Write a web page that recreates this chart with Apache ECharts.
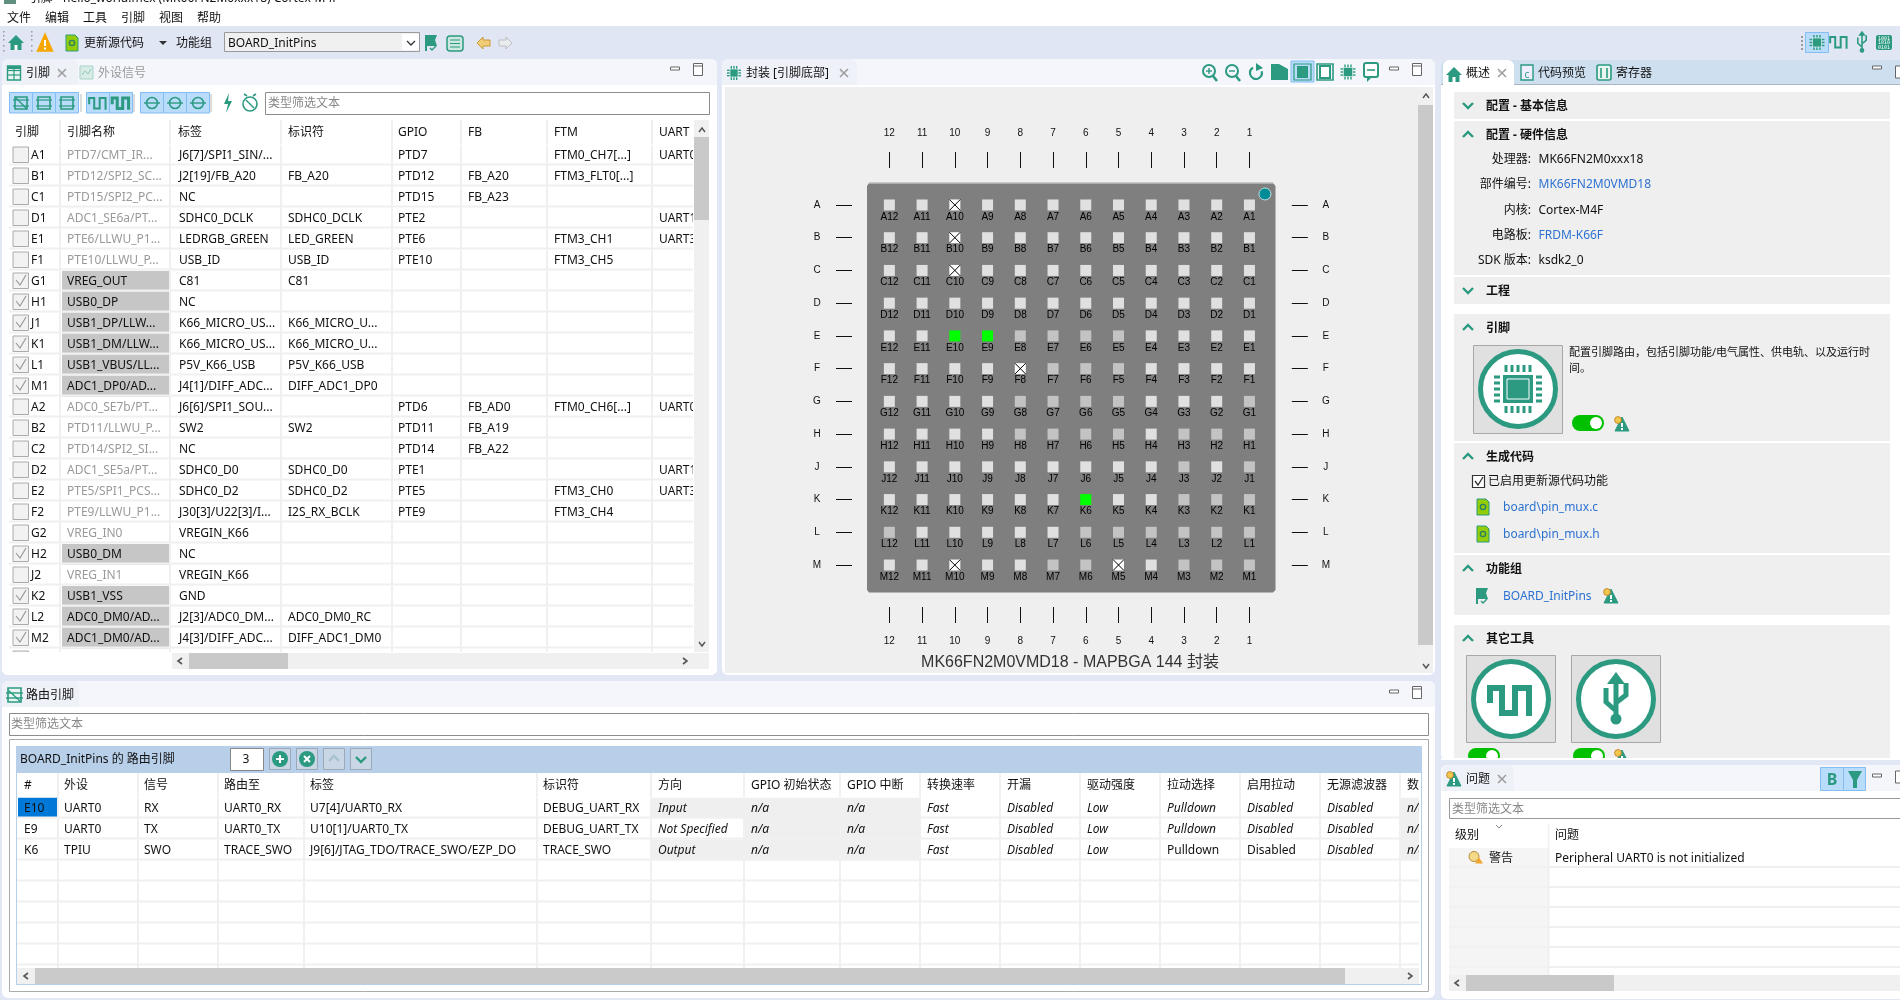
<!DOCTYPE html>
<html>
<head>
<meta charset="utf-8">
<title>引脚</title>
<style>html,body{margin:0;padding:0;background:#e1e7f4}#main{width:1900px;height:1000px}</style>
<script src="https://cdn.jsdelivr.net/npm/echarts@6/dist/echarts.min.js"></script>
</head>
<body>
<div id="main"></div>
<script>
// package pins
const pinColumns = ['12','11','10','9','8','7','6','5','4','3','2','1'];
const pinRowNames = ['A','B','C','D','E','F','G','H','J','K','L','M'];
const routedPins = ['E10','E9','K6'];
const crossedPins = ['A10','B10','C10','F8','M10','M5'];
const inactivePins = ['E8','E7','E6','E5','F7','F6','F5','G8','G7','G6','G5','G1','H8','H7','H6','H5','H3','H2','H1',
  'J3','J1','K3','K2','K1','L12','L6','L5','L4','L3','L2','L1','M7','M6','M3','M2','M1'];

// pins table
const pinHeaders = ['引脚','引脚名称','标签','标识符','GPIO','FB','FTM','UART'];
const pinIds = ['A1','B1','C1','D1','E1','F1','G1','H1','J1','K1','L1','M1','A2','B2','C2','D2','E2','F2','G2','H2','J2','K2','L2','M2',''];
const pinChecked = ['G1','H1','J1','K1','L1','M1','H2','K2','L2','M2'];
const pinNames = ['PTD7/CMT_IR...','PTD12/SPI2_SC...','PTD15/SPI2_PC...','ADC1_SE6a/PT...','PTE6/LLWU_P1...','PTE10/LLWU_P...','VREG_OUT','USB0_DP','USB1_DP/LLW...','USB1_DM/LLW...','USB1_VBUS/LL...','ADC1_DP0/AD...',
  'ADC0_SE7b/PT...','PTD11/LLWU_P...','PTD14/SPI2_SI...','ADC1_SE5a/PT...','PTE5/SPI1_PCS...','PTE9/LLWU_P1...','VREG_IN0','USB0_DM','VREG_IN1','USB1_VSS','ADC0_DM0/AD...','ADC1_DM0/AD...',''];
const pinLabels = ['J6[7]/SPI1_SIN/...','J2[19]/FB_A20','NC','SDHC0_DCLK','LEDRGB_GREEN','USB_ID','C81','NC','K66_MICRO_US...','K66_MICRO_US...','P5V_K66_USB','J4[1]/DIFF_ADC...',
  'J6[6]/SPI1_SOU...','SW2','NC','SDHC0_D0','SDHC0_D2','J30[3]/U22[3]/I...','VREGIN_K66','NC','VREGIN_K66','GND','J2[3]/ADC0_DM...','J4[3]/DIFF_ADC...',''];
const pinIdents = ['','FB_A20','','SDHC0_DCLK','LED_GREEN','USB_ID','C81','','K66_MICRO_U...','K66_MICRO_U...','P5V_K66_USB','DIFF_ADC1_DP0',
  '','SW2','','SDHC0_D0','SDHC0_D2','I2S_RX_BCLK','','','','','ADC0_DM0_RC','DIFF_ADC1_DM0',''];
const pinGpio = ['PTD7','PTD12','PTD15','PTE2','PTE6','PTE10','','','','','','','PTD6','PTD11','PTD14','PTE1','PTE5','PTE9','','','','','','',''];
const pinFb = ['','FB_A20','FB_A23','','','','','','','','','','FB_AD0','FB_A19','FB_A22','','','','','','','','','',''];
const pinFtm = ['FTM0_CH7[...]','FTM3_FLT0[...]','','','FTM3_CH1','FTM3_CH5','','','','','','','FTM0_CH6[...]','','','','FTM3_CH0','FTM3_CH4','','','','','','',''];
const pinUart = ['UART0','','','UART1','UART3','','','','','','','','UART0','','','UART1','UART3','','','','','','','',''];

// routed pins table
const routedHeaders = ['#','外设','信号','路由至','标签','标识符','方向','GPIO 初始状态','GPIO 中断','转换速率','开漏','驱动强度','拉动选择','启用拉动','无源滤波器','数'];
const routedRows = [
  ['E10','UART0','RX','UART0_RX','U7[4]/UART0_RX','DEBUG_UART_RX','Input','n/a','n/a','Fast','Disabled','Low','Pulldown','Disabled','Disabled','n/a'],
  ['E9','UART0','TX','UART0_TX','U10[1]/UART0_TX','DEBUG_UART_TX','Not Specified','n/a','n/a','Fast','Disabled','Low','Pulldown','Disabled','Disabled','n/a'],
  ['K6','TPIU','SWO','TRACE_SWO','J9[6]/JTAG_TDO/TRACE_SWO/EZP_DO','TRACE_SWO','Output','n/a','n/a','Fast','Disabled','Low','Pulldown','Disabled','Disabled','n/a'],
  [],[],[],[],[],[]
];

// problems table
const problemRows = [['警告','Peripheral UART0 is not initialized'],[],[],[],[],[],[]];

const FONT = '"Noto Sans","Noto Sans CJK SC",sans-serif';
const INK = '#111';
const TEAL = '#2b9a80', LINK = '#2d72d2', GRID_LINE = '#f0f0f0', BTN = '#b9dcfb', BTN_EDGE = '#84bdf2';

// column edges, in table axis units (pixels from the table's left side)
const pinColEdges = [0,51,161,272,383,452,538,643];
const pinColText = [22,58,170,279,389,459,545,650];
const pinHeadText = [6,58,169,279,389,459,545,650];
const routedColEdges = [0,41,121,201,287,520,634,727,823,903,983,1063,1143,1223,1303,1383];
const routedColText = [7,47,127,207,293,526,641,734,830,910,990,1070,1150,1230,1310,1390];

// --- chrome helpers
const back = [], front = [];
let out = back;
function R(x,y,w,h,fill,stroke,r,lw){out.push({type:'rect',z:out===front?10:0,shape:{x,y,width:w,height:h,r:r||0},style:{fill:fill||'none',stroke:stroke||null,lineWidth:lw||1},silent:true});}
function L(x1,y1,x2,y2,c,lw){out.push({type:'line',z:out===front?10:0,shape:{x1,y1,x2,y2},style:{stroke:c||'#777',lineWidth:lw||1},silent:true});}
function PG(pts,fill,stroke,lw){out.push({type:'polygon',z:out===front?10:0,shape:{points:pts},style:{fill:fill||'none',stroke:stroke||null,lineWidth:lw||1},silent:true});}
function PL(pts,c,lw){out.push({type:'polyline',z:out===front?10:0,shape:{points:pts},style:{fill:'none',stroke:c,lineWidth:lw||1},silent:true});}
function C(cx,cy,r,fill,stroke,lw){out.push({type:'circle',z:out===front?10:0,shape:{cx,cy,r},style:{fill:fill||'none',stroke:stroke||null,lineWidth:lw||1},silent:true});}
function T(x,y,s,o){o=o||{};out.push({type:'text',z:out===front?10:0,silent:true,style:{text:s,x,y:y+1,fill:o.c||INK,font:(o.font||((o.w?'bold ':'')+(o.s||12)+'px '+FONT)),textAlign:o.a||'left',align:o.a||'left',textVerticalAlign:'middle',verticalAlign:'middle'}});}

// --- icons
function closeX(x,y){L(x-4,y-4,x+4,y+4,'#9a9a9a',1.4);L(x+4,y-4,x-4,y+4,'#9a9a9a',1.4);L(x-2,y,x-4,y-2,'#d0d0d0',1);}
function minMax(x1,x2,y){R(x1-4.5,y-2,9,3,'#fff','#666');R(x2-4.5,y-5.5,9,12,'#fff','#666');L(x2-4.5,y-3,x2+4.5,y-3,'#666');}
function house(x,y,c){PG([[x-8,y],[x,y-8],[x+8,y]],c||TEAL);R(x-5.5,y,11,7,c||TEAL);R(x-1.5,y+2,3,5,'#fff');}
function warnOrange(x,y){PG([[x,y-9],[x+7.5,y+8],[x-7.5,y+8]],'#f7a600','#f7a600',1.5);R(x-1,y-3,2,6,'#fff');R(x-1,y+4.5,2,2,'#fff');}
function warnTeal(x,y){PG([[x,y-7],[x+7,y+7],[x-7,y+7]],TEAL,TEAL,1);R(x-1,y-1,2,4,'#fff');R(x-1,y+4,2,2,'#fff');C(x-4,y-4,3.4,'#f3c74e','#b87b1f',0.8);}
function greenDoc(x,y){PG([[x-6,y-8],[x+3,y-8],[x+6,y-5],[x+6,y+8],[x-6,y+8]],'#93cc08',TEAL,1);C(x,y,2.6,'none','#2a7f62',1.4);}
function flag(x,y){R(x-6,y-8,2,16,TEAL);PG([[x-4,y-8],[x+6,y-8],[x+4,y-3],[x+6,y+3],[x-4,y+3]],TEAL);PL([[x-1,y+5],[x+1,y+7],[x+5,y+3]],TEAL,1.4);}
function chipSmall(x,y,s,c){c=c||TEAL;R(x-s/2,y-s/2,s,s,c);for(let i=-1;i<=1;i++){const o=i*s/3;L(x+o,y-s/2-3,x+o,y+s/2+3,c,1.4);L(x-s/2-3,y+o,x+s/2+3,y+o,c,1.4);}R(x-s/2,y-s/2,s,s,c,'#fff',0,.6);}
function chipBig(x,y){
  for(let i=-2;i<=2;i++){const o=i*6;L(x+o,y-24,x+o,y+24,TEAL,3);L(x-24,y+o,x+24,y+o,TEAL,3);}
  R(x-18,y-17,36,34,'#fff');
  R(x-15,y-14,30,28,TEAL);
  R(x-11,y-10,22,20,TEAL,'#fff',0,1);
}
function tableIcon(x,y){R(x-6.5,y-7,13,14,'#e8f5f1',TEAL,0,1.4);for(const d of [-2.5,2]){L(x-6.5,y+d,x+6.5,y+d,TEAL,1.2);}L(x,y-7,x,y+7,TEAL,1.2);R(x-6.5,y-7,13,3,TEAL);}
function chevDown(x,y){PL([[x-5,y-3],[x,y+2],[x+5,y-3]],TEAL,2.4);}
function chevUp(x,y){PL([[x-5,y+2],[x,y-3],[x+5,y+2]],TEAL,2.4);}
function toggle(x,y){R(x,y-8,32,16,'#00c000',null,8);C(x+24,y,6,'#fff');}
function bigCircle(cx,cy,r){C(cx,cy,r,'#fff',TEAL,5);}
function lens(x,y,sym){C(x-1,y-1,6,'none',TEAL,2);L(x+3,y+4,x+7,y+9,TEAL,2.6);L(x-4,y-1,x+2,y-1,TEAL,1.4);if(sym){L(x-1,y-4,x-1,y+2,TEAL,1.4);}}
function scrollArrowUp(x,y){PL([[x-3,y+2],[x,y-2],[x+3,y+2]],'#555',1.4);}
function scrollArrowDown(x,y){PL([[x-3,y-2],[x,y+2],[x+3,y-2]],'#555',1.4);}
function scrollArrowLeft(x,y){PL([[x+2,y-3],[x-2,y],[x+2,y+3]],'#555',1.6);}
function scrollArrowRight(x,y){PL([[x-2,y-3],[x+2,y],[x-2,y+3]],'#555',1.6);}
function wave(x,y,k,lw){PL([[-21,4],[-21,-11],[-9,-11],[-9,14],[4,14],[4,-11],[18,-11],[18,17]].map(p=>[x+p[0]*k,y+p[1]*k]),TEAL,lw);}
function usb(x,y,k,lw){
  L(x,y-18*k,x,y+18*k,TEAL,lw);
  PG([[x,y-27*k],[x+9*k,y-15*k],[x-9*k,y-15*k]],TEAL);
  C(x,y+20*k,5.5*k,TEAL);
  PL([[x-10*k,y-11*k],[x-10*k,y+3*k],[x-1*k,y+11*k]],TEAL,lw);
  PL([[x+10*k,y-16*k],[x+10*k,y-4*k],[x+1*k,y+3*k]],TEAL,lw);
}

// --- back layer: window, panels
R(0,0,1900,26,'#fff');
R(0,26,1900,33,'#e0e6f3');
R(4,-6,12,10,'#5f8f80');
T(29,-2,'引脚 - hello_world.mex (MK66FN2M0xxx18) Cortex-M4F');
['文件','编辑','工具','引脚','视图','帮助'].forEach((m,i)=>T(7+i*38,18,m,{s:12}));

// main toolbar
house(16,43);
warnOrange(45,43);
greenDoc(72,43);
T(84,43,'更新源代码');
PG([[159,41],[167,41],[163,45]],'#333');
T(176,43,'功能组');
R(224.5,32.5,195,19,'#f0f0f0','#9a9a9a');
R(402,34,17,16,'#fff');
T(228,43,'BOARD_InitPins',{s:12});
PL([[407,41],[411,45],[415,41]],'#333',1.3);
flag(431,43);
R(447,36,16,15,'#cde8e0',TEAL,3,1.5);L(450,40,460,40,TEAL);L(450,43.5,460,43.5,TEAL);L(450,47,460,47,TEAL);
PG([[477,43],[483,37],[483,40],[490,40],[490,46],[483,46],[483,49]],'#f2cd78','#c99a3a');
PG([[512,43],[506,37],[506,40],[499,40],[499,46],[506,46],[506,49]],'#e9ecef','#bdbdbd');
[31,35,39,45,50].forEach(y=>{R(31,y,1.5,1.5,'#999');R(3,y,1.5,1.5,'#999');});
R(1805.5,32.5,23,20,BTN,BTN_EDGE);
[36,40,44,48].forEach(y=>R(1801,y,2,2,'#9a9a9a'));
chipSmall(1817,42.5,9);
wave(1839,41.5,.42,2);
usb(1862,42,.42,1.6);
R(1876,35,16,15,TEAL,null,2);
['1001','1010','0101'].forEach((s,i)=>T(1884,37.5+i*4.6,s,{font:'5px "DejaVu Sans Mono"',c:'#fff',a:'center'}));

// pins panel
R(2,59,715,616,'#fff',null,[6,6,6,6]);
R(2,59,715,26,'#f4f6fb',null,[6,6,0,0]);
R(2,59,76,26,'#eef1f8',null,[6,6,0,0]);
tableIcon(14,73);
T(26,73,'引脚');
closeX(62,73);
R(80,66,13,13,'#d8ece6','#a7d4c8');PL([[82,75],[85,71],[88,74],[91,69]],'#8fc7b9',1);
T(98,73,'外设信号',{c:'#999'});
minMax(675,698,69);
[[9,3],[86,2],[140,3]].forEach(([x,n])=>{
  for(let i=0;i<n;i++){R(x+.5+i*23,92.5,23,20.5,BTN,BTN_EDGE);}
});
[[21,1],[44,0],[67,2]].forEach(([x,k])=>{R(x-6,97,12,12,'none',TEAL,0,1.6);L(x-8,100,x+8,100,TEAL,1.2);L(x-8,106,x+8,106,TEAL,1.2);if(k===1){L(x-6,97,x+6,109,TEAL,1.4);}});
wave(98,102.5,.42,2);wave(121,102.5,.42,3);
[152,175,198].forEach(x=>{C(x,103,5.5,'none',TEAL,1.6);L(x-8,103,x+8,103,TEAL,1.4);});
[81,134,211].forEach(x=>L(x,94,x,112,'#bbb'));
PG([[229,93],[224,104],[228,104],[226,113],[232,101],[228,101]],TEAL);
C(250,104,7,'none',TEAL,1.6);L(246,100,254,108,TEAL,1.4);L(244,94,247,96,TEAL,1.6);L(256,94,253,96,TEAL,1.6);
R(265.5,92.5,444,22,'#fff','#8c8c8c');
T(268,103,'类型筛选文本',{c:'#888'});
pinHeaders.forEach((h,i)=>{T(9+pinHeadText[i],132,h);if(i>0){L(9+pinColEdges[i],120,9+pinColEdges[i],144,GRID_LINE,2);}});

// package panel
R(722,59,713,616,'#fff',null,[6,6,6,6]);
R(722,59,713,26,'#f4f6fb',null,[6,6,0,0]);
R(722,59,135,26,'#eef1f8',null,[6,6,0,0]);
chipSmall(734,73,8);
T(746,73,'封装 [引脚底部]');
closeX(844,73);
R(1291,61,23,21,BTN,BTN_EDGE);
lens(1210,72,true);lens(1233,72,false);
out.push({type:'arc',z:0,silent:true,shape:{cx:1256,cy:73,r:6,startAngle:-0.3,endAngle:4.2},style:{fill:'none',stroke:TEAL,lineWidth:2.2}});
PG([[1256,63],[1263,68],[1256,71]],TEAL);
PG([[1271,64],[1279,64],[1288,69],[1288,80],[1271,80]],TEAL);
R(1297,66,11,12,TEAL,null);R(1294,64,17,16,'none',TEAL,0,1.2);
R(1320,66,10,12,'#fff',TEAL,0,2);R(1317,64,16,16,'none',TEAL,0,1.6);
chipSmall(1348,72,9);
R(1364,63,14,14,'#fff',TEAL,2,2);L(1367,70,1375,70,TEAL,1.6);PG([[1367,77],[1372,77],[1367,82]],TEAL);
minMax(1394,1417,69);
R(725,87,693,586,'#efefef');
R(1418,87,15,586,'#f0f0f0');
R(1418,105,15,540,'#c9c9c9');
scrollArrowUp(1426,96);scrollArrowDown(1426,666);
PG([[869,183],[1273,183],[1275.5,186],[1275.5,590],[1273,592.5],[869,592.5],[867,590],[867,186]],'#7f7f7f');
L(869,183,1273,183,'#bdbdbd',1.4);

// routed pins panel
R(2,681,1433,317,'#fff',null,[6,6,6,6]);
R(2,681,1433,26,'#f4f6fb',null,[6,6,0,0]);
R(2,681,77,26,'#eef1f8',null,[6,6,0,0]);
R(8,688,13,14,'#e8f5f1',TEAL,0,1.6);L(6,693,23,693,TEAL,1.4);L(6,698,23,698,TEAL,1.4);L(8,690,21,702,TEAL,1.4);
T(26,695,'路由引脚');
minMax(1394,1417,692);
R(9.5,713.5,1419,22,'#fff','#8c8c8c');
T(11,724,'类型筛选文本',{c:'#888'});
R(9.5,739.5,1419,252,'#fff','#aaa');
R(16.5,746.5,1405,238,'#fff','#b8cfe9');
R(16,746,1406,27,'#b8cfe9');
T(20,759,'BOARD_InitPins 的 路由引脚');
R(230.5,748.5,33,22,'#fff','#888');
T(246,759,'3',{a:'center'});
[269,296,323,350].forEach(x=>R(x+.5,748.5,21,21,'#c8d6e6','#9aa8b8'));
C(280,759,8,TEAL);L(276,759,284,759,'#fff',2);L(280,755,280,763,'#fff',2);
C(307,759,8,TEAL);L(304,756,310,762,'#fff',2);L(310,756,304,762,'#fff',2);
PL([[329,761],[334,756],[339,761]],'#a9c1cf',2.4);
PL([[356,757],[361,762],[366,757]],TEAL,2.4);
routedHeaders.forEach((h,i)=>{T(17+routedColText[i],785,h);if(i>0){L(17+routedColEdges[i],773,17+routedColEdges[i],797,GRID_LINE,2);}});

// overview panel
R(1441,60,459,700,'#fff',null,[6,0,0,6]);
R(1441,60,459,24,'#cedff0',null,[6,0,0,0]);
L(1441,84.5,1900,84.5,'#aab4c2');
R(1443,60,71,25,'#fff',null,[6,6,0,0]);
house(1454,75);
T(1466,73,'概述');
closeX(1502,73);
R(1521,65,12,15,'#eef','#2b9a80',0,1.4);T(1527,74,'c',{c:TEAL,a:'center',s:10});
T(1538,73,'代码预览');
R(1597,65,14,15,'#e8f5f1',TEAL,2,1.6);L(1601,68,1601,78,TEAL,1.6);L(1607,68,1607,78,TEAL,1.6);
T(1616,73,'寄存器');
R(1872.5,66,9,3,'#fff','#666');R(1895.5,66,9,12,'#fff','#666');
[['配置 - 基本信息',92,27,0],['配置 - 硬件信息',121,154,1],['工程',277,27,0],['引脚',314,127,1],['生成代码',443,110,1],['功能组',555,60,1],['其它工具',625,133,1]].forEach(([t,y,h,open])=>{
  R(1454,y,436,h,'#efefef');
  (open?chevUp:chevDown)(1468,y+14);
  T(1486,y+14,t,{w:1});
});
[['处理器:','MK66FN2M0xxx18',159,0],['部件编号:','MK66FN2M0VMD18',184,1],['内核:','Cortex-M4F',210,0],['电路板:','FRDM-K66F',235,1],['SDK 版本:','ksdk2_0',260,0]].forEach(([k,v,y,link])=>{
  T(1531,y,k,{a:'right'});
  T(1538.5,y,v,{c:link?LINK:INK});
});
R(1473.5,345.5,89,88,'#e0e0e0','#a8a8a8');
bigCircle(1518,389,37.5);
chipBig(1518,389);
T(1569,352,'配置引脚路由，包括引脚功能/电气属性、供电轨、以及运行时',{s:11});
T(1569,368,'间。',{s:11});
toggle(1572,423);
warnTeal(1622,424);
R(1472.5,475.5,12,12,'#fff','#333',0,1.2);PL([[1475,481],[1478,485],[1483,477]],'#333',1.3);
T(1488,481,'已启用更新源代码功能');
greenDoc(1483,507);greenDoc(1483,534);
T(1503,507,'board\\pin_mux.c',{c:LINK});
T(1503,534,'board\\pin_mux.h',{c:LINK});
flag(1482,596);
T(1503,596,'BOARD_InitPins',{c:LINK});
warnTeal(1611,596);
[1466,1571].forEach(x=>{R(x+.5,655.5,89,87,'#e0e0e0','#a8a8a8');bigCircle(x+45,699,37.5);});
wave(1511,699,1,6);
usb(1616,699,1,5);
toggle(1468,756);toggle(1573,756);
warnTeal(1622,757);
R(1441,758,459,2,'#fff');
R(1441,760,459,5,'#e1e7f4');

// problems panel
R(1441,765,459,234,'#fff',null,[6,0,0,6]);
R(1441,765,459,26,'#f4f6fb',null,[6,0,0,0]);
R(1443,765,71,26,'#eef1f8',null,[6,6,0,0]);
warnTeal(1454,779);
T(1466,779,'问题');
closeX(1502,779);
R(1820.5,767.5,23,23,BTN,BTN_EDGE);R(1843.5,767.5,22,23,BTN,BTN_EDGE);
T(1832,779,'B',{s:16,w:1,c:TEAL,a:'center'});
PG([[1848,771],[1862,771],[1857,780],[1857,788],[1853,788],[1853,780]],TEAL);
R(1872.5,774,9,3,'#fff','#666');R(1895.5,771,9,12,'#fff','#666');
R(1449.5,798.5,451,20,'#fff','#999');
T(1452,809,'类型筛选文本',{c:'#888'});
T(1455,835,'级别');
PL([[1496,825],[1499,828],[1502,825]],'#888',1);
T(1555,835,'问题');
L(1548.5,824,1548.5,847,GRID_LINE,1.5);

// --- front layer: masks and scrollbars over the tables
out = front;
R(2,652,715,23,'#fff',null,[0,0,6,6]);
R(694,120,15,532,'#f0f0f0');
R(694,137,15,83,'#c9c9c9');
scrollArrowUp(702,130);scrollArrowDown(702,644);
R(172,653,537,16,'#f0f0f0');
R(189,653,99,16,'#c9c9c9');
scrollArrowLeft(180,661);scrollArrowRight(685,661);
R(17,968,1402,16,'#f0f0f0');
R(35,968,1310,16,'#cacaca');
scrollArrowLeft(26,976);scrollArrowRight(1410,976);
R(17,984.5,1405,6.5,'#fff');
L(16.5,984.5,1421.5,984.5,'#b8cfe9');
R(1449,975,451,16,'#f0f0f0');
R(1466,975,148,16,'#c9c9c9');
scrollArrowLeft(1457,983);

// --- series
const pinData = [];
pinRowNames.forEach((rowName,r)=>pinColumns.forEach((colName,c)=>{
  const name = rowName+colName;
  let color = '#e0e0e0';
  if(routedPins.includes(name)){color='#00ff00';}
  else if(crossedPins.includes(name)){color='#ffffff';}
  else if(inactivePins.includes(name)){color='#c3c3c3';}
  pinData.push({value:[c,r],name,itemStyle:{color,opacity:1}});
}));
const crossData = crossedPins.map(name=>({value:[pinColumns.indexOf(name.slice(1)),pinRowNames.indexOf(name[0])],name}));

function cellText(x,y,text,fill,italic){
  return {type:'text',x,y:y+1,silent:true,style:{text,fill:fill||INK,font:(italic?'italic ':'')+'12px '+FONT,align:'left',verticalAlign:'middle',textAlign:'left',textVerticalAlign:'middle'}};
}
function cellRect(x,y,w,h,fill){return {type:'rect',shape:{x,y,width:w,height:h},style:{fill},silent:true};}
function hLine(x1,x2,y){return {type:'line',shape:{x1,y1:y,x2,y2:y},style:{stroke:GRID_LINE,lineWidth:2},silent:true};}
function vLine(x,y1,y2){return {type:'line',shape:{x1:x,y1,x2:x,y2},style:{stroke:GRID_LINE,lineWidth:2},silent:true};}

function renderPinRow(params,api){
  const i = api.value(1), rowH = 21;
  const y = api.coord([0,i])[1];
  const px = u=>api.coord([u,i])[0];
  const id = pinIds[i], kids = [];
  const checked = pinChecked.includes(id);
  if(checked){kids.push(cellRect(px(53),y-10,109,20.5,'#c6c6c6'));}
  kids.push(hLine(px(0),px(684),y+rowH/2-1));
  pinColEdges.slice(1).forEach(e=>kids.push(vLine(px(e),y-rowH/2,y+rowH/2)));
  kids.push({type:'rect',shape:{x:px(4),y:y-8,width:15.5,height:15.5},style:{fill:'#f2f2f2',stroke:'#aaa'},silent:true});
  if(checked){kids.push({type:'polyline',shape:{points:[[px(7),y-1],[px(11),y+4],[px(17),y-6]]},style:{fill:'none',stroke:'#999',lineWidth:1.2},silent:true});}
  kids.push(cellText(px(22),y,id));
  kids.push(cellText(px(58),y,pinNames[i],checked?INK:'#9a9a9a'));
  [pinLabels,pinIdents,pinGpio,pinFb,pinFtm,pinUart].forEach((col,k)=>kids.push(cellText(px(pinColText[k+2]),y,col[i])));
  return {type:'group',children:kids};
}
function renderRoutedRow(params,api){
  const i = api.value(1), rowH = 21;
  const y = api.coord([0,i])[1];
  const px = u=>api.coord([u,i])[0];
  const row = routedRows[i], kids = [], filled = row.length>0;
  if(filled){
    [6,7,8,15].forEach(c=>{
      if(c===6 && row[c]==='Not Specified'){return;}
      const end = c===15?1402:routedColEdges[c+1];
      kids.push(cellRect(px(routedColEdges[c]),y-rowH/2,end-routedColEdges[c],rowH,'#efefef'));
    });
  }
  if(i===0){kids.push(cellRect(px(1),y-10.5,40,20.5,'#0078d7'));}
  kids.push(hLine(px(0),px(1402),y+rowH/2-1));
  routedColEdges.slice(1).forEach(e=>kids.push(vLine(px(e),y-rowH/2,y+rowH/2)));
  if(filled){
    row.forEach((v,c)=>{
      const plain = c<6 || (i===2 && (c===12||c===13));
      kids.push(cellText(px(routedColText[c]),y,v,INK,!plain));
    });
  }
  return {type:'group',children:kids};
}
function renderProblemRow(params,api){
  const i = api.value(1), rowH = 20;
  const y = api.coord([0,i])[1];
  const px = u=>api.coord([u,i])[0];
  const row = problemRows[i], kids = [cellRect(px(0),y-rowH/2,99,rowH,'#f5f5f5')];
  kids.push(hLine(px(0),px(451),y+rowH/2-.5));
  kids.push(vLine(px(99.5),y-rowH/2,y+rowH/2));
  if(row.length){
    kids.push({type:'circle',shape:{cx:px(25),cy:y-1,r:5},style:{fill:'#f5d98a',stroke:'#b88a33'},silent:true});
    kids.push({type:'polygon',shape:{points:[[px(30),y],[px(34),y+6],[px(26),y+6]]},style:{fill:'#f2a52a'},silent:true});
    kids.push(cellText(px(40),y,row[0]));
    kids.push(cellText(px(106),y,row[1]));
  }
  return {type:'group',children:kids};
}
function rowAxis(gridIndex,n){
  return {type:'category',gridIndex,show:false,inverse:true,data:Array.from({length:n},(_,i)=>String(i))};
}
function unitAxis(gridIndex,max){return {type:'value',gridIndex,show:false,min:0,max,splitLine:{show:false}};}
const edgeTick = {show:true,alignWithLabel:true,length:16,lineStyle:{color:'#111',width:1}};
const edgeLabel = {show:true,interval:0,color:'#111',fontSize:10,fontFamily:'"Liberation Sans",sans-serif'};
function edgeX(position,offset,margin){
  return {type:'category',gridIndex:0,position,offset,data:pinColumns,axisLine:{show:false},axisTick:edgeTick,splitLine:{show:false},axisLabel:{...edgeLabel,margin}};
}
function edgeY(position,offset,margin){
  return {type:'category',gridIndex:0,position,offset,inverse:true,data:pinRowNames,axisLine:{show:false},axisTick:edgeTick,splitLine:{show:false},axisLabel:{...edgeLabel,margin,align:'center',padding:[0,0,6,0]}};
}

const chart = echarts.init(document.getElementById('main'),null,{renderer:'canvas'});
chart.setOption({
  animation:false,
  backgroundColor:'#e1e7f4',
  title:{text:'MK66FN2M0VMD18 - MAPBGA 144 封装',left:1065,top:650,textAlign:'center',textStyle:{fontSize:16,fontWeight:'normal',color:'#333',fontFamily:'"Liberation Sans","Noto Sans CJK SC",sans-serif'}},
  tooltip:{show:false},
  graphic:{elements:back.concat(front)},
  grid:[
    {left:873,top:188.6,width:392.8,height:392.8},
    {left:9,top:144.5,width:684,height:525},
    {left:17,top:797.5,width:1402,height:189},
    {left:1449,top:847.5,width:451,height:140}
  ],
  xAxis:[edgeX('top',20.6,30),edgeX('bottom',25.6,29),unitAxis(1,684),unitAxis(2,1402),unitAxis(3,451)],
  yAxis:[edgeY('left',21,35),edgeY('right',26,34),rowAxis(1,pinIds.length),rowAxis(2,routedRows.length),rowAxis(3,problemRows.length)],
  series:[
    {type:'scatter',name:'pins',xAxisIndex:0,yAxisIndex:0,symbol:'rect',symbolSize:11,silent:true,data:pinData,
      label:{show:true,position:'bottom',distance:1.5,formatter:'{b}',color:'#000',fontSize:10,fontFamily:'"Liberation Sans",sans-serif'}},
    {type:'scatter',name:'not connected',xAxisIndex:0,yAxisIndex:0,symbol:'path://M0 0L10 10M10 0L0 10',symbolSize:11,silent:true,z:3,data:crossData,
      itemStyle:{color:'none',borderColor:'#000',borderWidth:1,opacity:1}},
    {type:'scatter',name:'pin 1',xAxisIndex:0,yAxisIndex:0,symbol:'circle',symbolSize:12,silent:true,z:3,
      data:[{value:[11,0],symbolOffset:[15.5,-11]}],itemStyle:{color:'#008c96',borderColor:'#bfe0e0',borderWidth:1,opacity:1}},
    {type:'custom',name:'pins table',xAxisIndex:2,yAxisIndex:2,clip:true,silent:true,renderItem:renderPinRow,encode:{x:0,y:1},
      data:pinIds.map((_,i)=>[0,i])},
    {type:'custom',name:'routed table',xAxisIndex:3,yAxisIndex:3,clip:true,silent:true,renderItem:renderRoutedRow,encode:{x:0,y:1},
      data:routedRows.map((_,i)=>[0,i])},
    {type:'custom',name:'problems table',xAxisIndex:4,yAxisIndex:4,clip:true,silent:true,renderItem:renderProblemRow,encode:{x:0,y:1},
      data:problemRows.map((_,i)=>[0,i])}
  ]
});
</script>
</body>
</html>
